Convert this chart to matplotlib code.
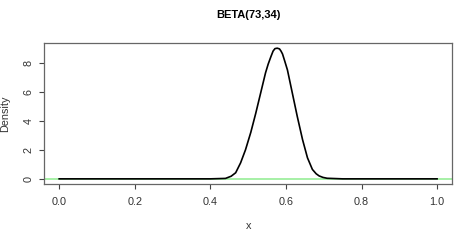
import matplotlib
matplotlib.use("Agg")
import matplotlib.pyplot as plt

# density curve
x_vals = [0.0, 0.10, 0.20, 0.30, 0.40, 0.44, 0.455, 0.467, 0.480, 0.493, 0.507,
          0.520, 0.533, 0.546, 0.553, 0.560, 0.566, 0.571, 0.577, 0.583, 0.587,
          0.591, 0.597, 0.604, 0.617, 0.630, 0.644, 0.657, 0.670, 0.680, 0.688,
          0.698, 0.709, 0.75, 0.80, 0.90, 1.0]
density = [0.0, 0.0, 0.0, 0.0, 0.0, 0.03, 0.18, 0.42, 1.1, 2.0, 3.2,
           4.5, 5.9, 7.3, 7.9, 8.4, 8.8, 8.97, 9.0, 8.95, 8.8,
           8.6, 8.1, 7.5, 5.9, 4.3, 2.7, 1.45, 0.65, 0.35, 0.2,
           0.1, 0.04, 0.0, 0.0, 0.0, 0.0]
x_ticks = [0.0, 0.2, 0.4, 0.6, 0.8, 1.0]
y_ticks = [0, 2, 4, 6, 8]

plt.rcParams['font.family'] = ['Liberation Sans', 'DejaVu Sans']

fig = plt.figure(figsize=(4.74, 2.4), dpi=100)
ax = fig.add_axes([0.093, 0.233, 0.861, 0.588])

ax.axhline(0, color='#a6f0a6', lw=1.4, zorder=1)
ax.plot(x_vals, density, color='black', lw=1.2, zorder=2)

ax.set_xlim(-0.04, 1.04)
ax.set_ylim(-0.36, 9.36)
ax.set_xticks(x_ticks, [f"{t:.1f}" for t in x_ticks])
ax.set_yticks(y_ticks, [str(t) for t in y_ticks])
for lab in ax.get_yticklabels():
    lab.set_rotation(90)
    lab.set_va('center')

ax.tick_params(axis='both', labelsize=7.8, length=3.6, width=0.8,
               color='#444444', labelcolor='#333333')
ax.tick_params(axis='x', pad=5.5)
ax.tick_params(axis='y', pad=4)
for s in ax.spines.values():
    s.set_color('#666666')
    s.set_linewidth(0.9)

ax.set_title('BETA(73,34)', fontsize=8, fontweight='bold', pad=18)
ax.set_xlabel('x', fontsize=7.8, color='#333333', labelpad=10)
ax.set_ylabel('Density', fontsize=7.8, color='#333333', labelpad=10)

fig.savefig('out.png', dpi=100)
